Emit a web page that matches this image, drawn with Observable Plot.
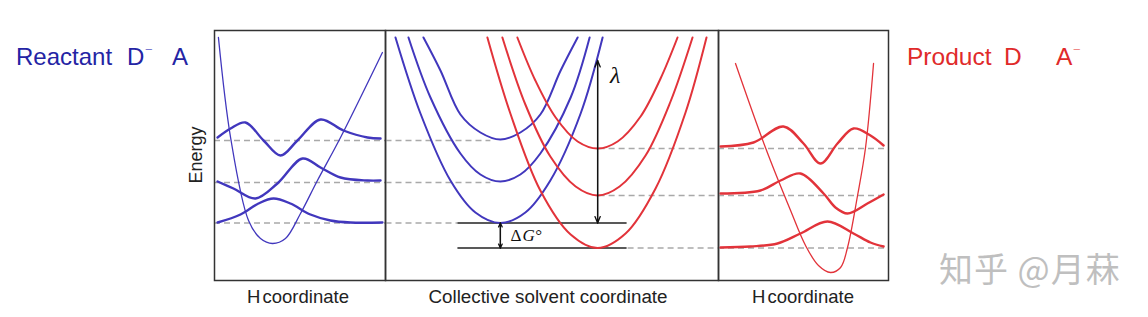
<!DOCTYPE html>
<html><head><meta charset="utf-8">
<script src="https://cdn.jsdelivr.net/npm/d3@7"></script>
<script src="https://cdn.jsdelivr.net/npm/@observablehq/plot@0.6"></script>
<style>
body{margin:0;background:#fff;width:1148px;height:317px;position:relative;overflow:hidden;font-family:"Liberation Sans",Arial,sans-serif}
.t{position:absolute;white-space:nowrap;line-height:1}
</style></head><body>
<script>
// ---------- data (x in 0..100 per panel, energy E in 0..100) ----------
const blueLevels = [23, 39.2, 56];
const redLevels = [13, 34, 52.8];

const leftPotential = [[2.3,97.2],[9.4,57.2],[19.9,24],[26.9,16.8],[33.9,14.8],[41.5,16.8],[50.3,26.8],[60.2,40],[73.7,57.2],[98.2,91.2]];
const leftWave0 = [[1.8,23.2],[15.2,26.4],[25.7,30.8],[34.5,32.8],[44.4,30.8],[56.1,26.4],[67.8,24],[79.5,23.2],[98.2,23.2]];
const leftWave1 = [[1.8,39.6],[11.1,36.8],[24.0,32.8],[36.8,38.8],[51.5,48.8],[62.0,45.2],[73.7,41.2],[89.5,40],[97.1,40]];
const leftWave2 = [[1.8,57.2],[9.4,60.8],[18.1,63.2],[28.7,56],[38.6,50],[48.5,56],[62.0,64.4],[75.4,60],[89.5,57.2],[97.1,56.8]];

const blueParab0 = [[3.0,97.2],[10.5,66.8],[19.5,40],[27.0,27.2],[34.5,23],[42.0,27.2],[49.5,40],[58.6,66.8],[65.2,97.2]];
const blueParab1 = [[6.9,97.2],[13.5,73.2],[22.5,50.8],[28.5,42.4],[34.5,39.6],[40.5,42.4],[46.5,50.8],[55.6,73.2],[61.3,97.2]];
const blueParab2 = [[11.4,97.2],[16.5,84],[22.5,66.4],[28.5,59.2],[34.5,56.4],[40.5,59.2],[46.5,66.4],[52.6,84],[57.7,97.2]];
const redParab0 = [[30.6,97.2],[37.5,66.8],[46.5,36],[55.6,18.4],[63.7,13],[72.1,18.8],[81.1,36.8],[90.1,67.2],[96.4,97.2]];
const redParab1 = [[35.1,97.2],[42.0,70.4],[49.5,49.6],[57.1,37.6],[63.7,34],[70.3,37.6],[78.1,50],[85.6,71.6],[92.2,97.2]];
const redParab2 = [[39.6,97.2],[45.0,80],[51.1,65.2],[57.7,55.6],[63.7,52.8],[69.7,55.6],[76.6,65.6],[82.6,80.8],[87.7,97.2]];

const middleBlueDashEnd = [21.6, 31.5, 31.5];
const middleRedDashStart = [72.7, 64, 64];
const solidLineX = [21.6, 72.4];
const lambdaX = 63.7, lambdaTop = 88;
const deltaGX = 34.5;

const rightPotential = [[10.0,86.8],[27.6,53.2],[42.4,28],[51.2,14],[58.8,6],[65.9,3.2],[71.8,5.2],[75.9,13.2],[81.8,34],[86.5,53.2],[91.2,86.8]];
const rightWave0 = [[1.2,13.2],[18.8,13.6],[34.7,14.8],[48.2,18.8],[64.1,23.6],[79.4,18.8],[89.4,15.2],[97.1,13.6]];
const rightWave1 = [[1.2,34.8],[24.7,36],[36.5,40],[48.2,42.8],[61.8,34.8],[68.8,29.2],[75.9,26.8],[87.6,30.8],[97.1,34.4]];
const rightWave2 = [[1.2,53.6],[20.6,55.2],[38.2,61.6],[50.0,54.8],[60.0,46.8],[70.0,54.8],[79.4,60.8],[89.4,58],[97.1,54]];

// ---------- styles ----------
const BLUE = "#4137bd", RED = "#e2333a", DASH = "#a9a9a9";
const X = d => d[0], Y = d => d[1];

function panel(left, width, marks) {
  const svg = Plot.plot({
    width, height: 250, margin: 0,
    x: {domain: [0, 100], axis: null},
    y: {domain: [0, 100], axis: null},
    style: {overflow: "visible", background: "transparent"},
    marks
  });
  svg.style.position = "absolute";
  svg.style.left = left + "px";
  svg.style.top = "30px";
  document.body.appendChild(svg);
}
const wave = (data, color) => Plot.line(data, {x: X, y: Y, stroke: color, strokeWidth: 2.4, curve: "catmull-rom"});
const thin = (data, color) => Plot.line(data, {x: X, y: Y, stroke: color, strokeWidth: 1.3, curve: "catmull-rom"});
const parab = (data, color) => Plot.line(data, {x: X, y: Y, stroke: color, strokeWidth: 2, curve: "catmull-rom"});
const frame = Plot.frame({stroke: "#333", strokeWidth: 1.5});

// left panel
panel(214, 171, [
  Plot.ruleY(blueLevels, {stroke: DASH, strokeWidth: 1.5, strokeDasharray: "6,4"}),
  thin(leftPotential, BLUE),
  wave(leftWave0, BLUE), wave(leftWave1, BLUE), wave(leftWave2, BLUE),
  frame
]);

// middle panel
const blueDash = blueLevels.map((e, i) => ({y: e, x1: 0, x2: middleBlueDashEnd[i]}));
const redDash = redLevels.map((e, i) => ({y: e, x1: middleRedDashStart[i], x2: 100}));
const solids = [blueLevels[0], redLevels[0]].map(e => ({y: e, x1: solidLineX[0], x2: solidLineX[1]}));
panel(385, 333, [
  Plot.link(blueDash.concat(redDash), {x1: "x1", x2: "x2", y1: "y", y2: "y", stroke: DASH, strokeWidth: 1.5, strokeDasharray: "6,4"}),
  Plot.link(solids, {x1: "x1", x2: "x2", y1: "y", y2: "y", stroke: "#222", strokeWidth: 1.5}),
  parab(blueParab0, BLUE), parab(blueParab1, BLUE), parab(blueParab2, BLUE),
  parab(redParab0, RED), parab(redParab1, RED), parab(redParab2, RED),
  Plot.arrow([[lambdaTop, blueLevels[0]], [blueLevels[0], lambdaTop]], {x1: lambdaX, x2: lambdaX, y1: d => d[0], y2: d => d[1], stroke: "#111", strokeWidth: 1.3, headLength: 8, headAngle: 45}),
  Plot.arrow([[blueLevels[0], redLevels[0]], [redLevels[0], blueLevels[0]]], {x1: deltaGX, x2: deltaGX, y1: d => d[0], y2: d => d[1], stroke: "#111", strokeWidth: 1.3, headLength: 5, headAngle: 50}),
  Plot.text(["λ"], {x: lambdaX + 5.3, y: 82, text: d => d, fontSize: 24, fontStyle: "italic", fontFamily: "Liberation Serif, serif", fill: "#111"}),
  Plot.text(["Δ"], {x: deltaGX + 3, y: (blueLevels[0] + redLevels[0]) / 2, text: d => d, textAnchor: "start", fontSize: 17, fontFamily: "Liberation Serif, serif", fill: "#111"}),
  Plot.text(["G°"], {x: deltaGX + 3, dx: 12, y: (blueLevels[0] + redLevels[0]) / 2, text: d => d, textAnchor: "start", fontSize: 17, fontStyle: "italic", fontFamily: "Liberation Serif, serif", fill: "#111"}),
  frame
]);

// right panel
panel(718, 170, [
  Plot.ruleY(redLevels, {stroke: DASH, strokeWidth: 1.5, strokeDasharray: "6,4"}),
  thin(rightPotential, RED),
  wave(rightWave0, RED), wave(rightWave1, RED), wave(rightWave2, RED),
  frame
]);
</script>
<!-- titles and labels -->
<div class="t" style="left:16px;top:45px;font-size:24px;color:#2424a4">Reactant</div>
<div class="t" style="left:127px;top:45px;font-size:24px;color:#2424a4">D</div>
<div class="t" style="left:145px;top:43px;font-size:13px;color:#7a7ad0">−</div>
<div class="t" style="left:172px;top:45px;font-size:24px;color:#2424a4">A</div>

<div class="t" style="left:907px;top:45px;font-size:24.5px;color:#e02a2a">Product</div>
<div class="t" style="left:1004px;top:45px;font-size:24.5px;color:#e02a2a">D</div>
<div class="t" style="left:1056px;top:45px;font-size:24.5px;color:#e02a2a">A</div>
<div class="t" style="left:1073px;top:43px;font-size:13px;color:#ee8888">−</div>

<div class="t" style="left:196px;top:155px;font-size:18px;color:#222;transform:translate(-50%,-50%) rotate(-90deg)">Energy</div>
<div class="t" style="left:298px;top:297px;font-size:18.5px;color:#222;word-spacing:-3px;transform:translate(-50%,-50%)">H coordinate</div>
<div class="t" style="left:548px;top:297px;font-size:18.8px;color:#222;transform:translate(-50%,-50%)">Collective solvent coordinate</div>
<div class="t" style="left:803px;top:297px;font-size:18.5px;color:#222;word-spacing:-3px;transform:translate(-50%,-50%)">H coordinate</div>

<div class="t" style="left:939px;top:251px;font-size:34px;letter-spacing:1px;color:#bfbfbf;font-family:'Noto Sans CJK SC',sans-serif">知乎 @月菻</div>
</body></html>
